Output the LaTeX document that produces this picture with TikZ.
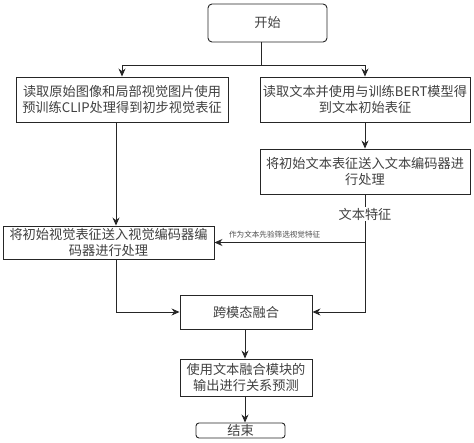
\documentclass[tikz,border=0pt]{standalone}
\usepackage{fontspec}
\setmainfont{Noto Sans CJK SC}
\usetikzlibrary{arrows.meta}
\begin{document}
\begin{tikzpicture}[x=1pt,y=-1pt,
  box/.style={draw=black!85, line width=0.9pt, rectangle, align=center, inner sep=0pt,
    font=\fontsize{13.2}{16}\selectfont, text=black!75},
  rbox/.style={box, rounded corners=4pt},
  arr/.style={draw=black!85, line width=0.9pt, -{Stealth[length=8pt,width=7pt]}},
  ln/.style={draw=black!85, line width=0.9pt}]
\useasboundingbox (0,0) rectangle (474,442);
\node[rbox, minimum width=119pt, minimum height=38pt] (S) at (267.5,23) {开始};
\node[box, minimum width=212pt, minimum height=45pt] (A) at (122,99.5) {读取原始图像和局部视觉图片使用\\预训练CLIP处理得到初步视觉表征};
\node[box, minimum width=210pt, minimum height=45pt] (B) at (365,99.5) {读取文本并使用与训练BERT模型得\\到文本初始表征};
\node[box, minimum width=210pt, minimum height=45pt] (D) at (365,171.5) {将初始文本表征送入文本编码器进\\行处理};
\node[box, minimum width=211pt, minimum height=33pt] (C) at (108.5,242.5) {将初始视觉表征送入视觉编码器编\\码器进行处理};
\node[box, minimum width=132pt, minimum height=34pt] (E) at (246,312) {跨模态融合};
\node[box, minimum width=132pt, minimum height=37pt] (F) at (246,377.5) {使用文本融合模块的\\输出进行关系预测};
\node[rbox, minimum width=89pt, minimum height=15pt, rounded corners=3pt] (G) at (240.5,430.5) {结束};
\coordinate (split) at (261,65);
\draw[ln] ([xshift=-6.5pt]S.south) -- (split);
\draw[arr] (split) -| (A.north);
\draw[arr] (split) -| (B.north);
\draw[arr] (B.south) -- (D.north);
\draw[arr] ([xshift=-6pt]A.south) -- ([xshift=-6pt]A.south |- C.north);
\draw[arr] ([xshift=7.5pt]C.south) |- (E.west);
\draw[arr] (D.south) |- (E.east);
\node[fill=white, inner sep=1pt, font=\fontsize{13.2}{16}\selectfont, text=black!75] (T) at (365,214) {文本特征};
\draw[arr] (C.east -| D.south) -- node[pos=0.6, above=1pt, font=\fontsize{7.6}{9}\selectfont, text=black!70] (L) {作为文本先验筛选视觉特征} (C.east);
\draw[arr] ([xshift=-1pt]E.south) -- ([xshift=-1pt]E.south |- F.north);
\draw[arr] ([xshift=-1pt]F.south) -- ([xshift=-1pt]F.south |- G.north);
\end{tikzpicture}
\end{document}
